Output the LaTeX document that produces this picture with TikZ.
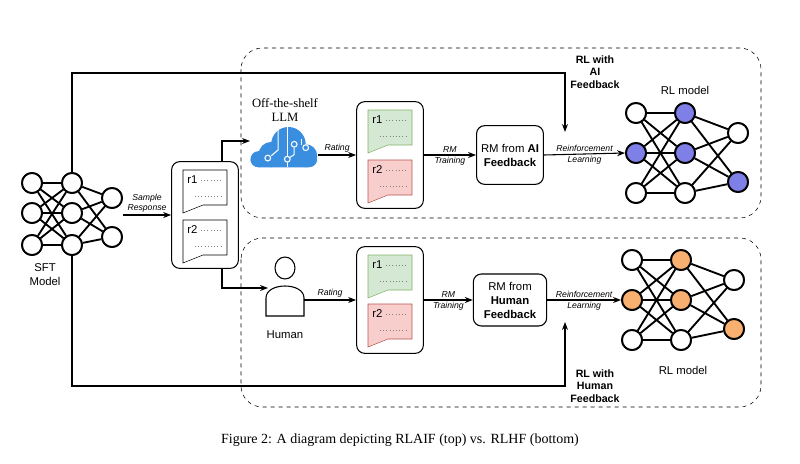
\documentclass[tikz,border=0pt]{standalone}
\usepackage{fontspec}
\setmainfont{Liberation Sans}
\newfontfamily\serifed{Liberation Serif}
\usetikzlibrary{arrows.meta}
\usetikzlibrary{positioning}

\definecolor{aiblue}{HTML}{7F7FE8}
\definecolor{hforange}{HTML}{F8B070}
\definecolor{okgreen}{HTML}{D5E8D4}
\definecolor{okgreenline}{HTML}{82B366}
\definecolor{badred}{HTML}{F8CECC}
\definecolor{badredline}{HTML}{B85450}
\definecolor{cloudblue}{HTML}{3A8EE0}

\tikzset{
	neuron/.style = {circle, draw, line width=1.4pt, minimum size=15pt, inner sep=0pt, fill=white},
	box/.style = {draw, rounded corners=6pt, thick},
	arr/.style = {-{Stealth[length=6pt]}, thick},
	tag/.style = {font=\fontsize{6.5}{7.5}\selectfont\itshape, inner sep=1.5pt},
	bold label/.style = {font=\fontsize{8}{9.5}\selectfont\bfseries, align=center},
	zone/.style = {draw, dashed, rounded corners=16pt},
}

% speech bubble: #1 name, #2 x, #3 y, #4 fill, #5 line, #6 label
\newcommand{\bubble}[6]{
	\draw[fill=#4, draw=#5] (#2,#3) -- ++(44,0) -- ++(0,35) -- ++(-24,0) -- ++(-20,8) -- cycle;
	\node[anchor=north west, inner sep=0pt, font=\fontsize{8.5}{9}\selectfont] (#1) at ([shift={(4,5)}]#2,#3) {#6};
	\draw[dotted, draw=gray] ([shift={(18,10)}]#2,#3) -- ++(21,0);
	\draw[dotted, draw=gray] ([shift={(12,26)}]#2,#3) -- ++(27,0);
}

\begin{document}
\begin{tikzpicture}[x=0.75pt, y=-0.75pt]
	\useasboundingbox (0,0) rectangle (800,464);

	% dashed zones
	\draw[zone] (241,48) rectangle (761,218);
	\draw[zone] (241,238) rectangle (761,407);

	% SFT model
	\foreach \i/\y in {1/183,2/213,3/245} {
		\node[neuron] (s1\i) at (32,\y) {};
		\node[neuron] (s2\i) at (72,\y) {};
	}
	\node[neuron] (s31) at (112,198) {};
	\node[neuron] (s32) at (112,237) {};
	\foreach \i in {1,2,3} {
		\foreach \j in {1,2,3} \draw[line width=1.4pt] (s1\i) -- (s2\j);
		\foreach \j in {1,2} \draw[line width=1.4pt] (s2\i) -- (s3\j);
	}
	\foreach \i/\y in {1/183,2/213,3/245} {
		\node[neuron] at (32,\y) {};
		\node[neuron] at (72,\y) {};
	}
	\node[neuron] at (112,198) {};
	\node[neuron] at (112,237) {};
	\node[align=center, font=\fontsize{8.5}{10.5}\selectfont] (sft) at (45,275) {SFT\\Model};

	% sampled responses
	\node[box, minimum width=50pt, minimum height=80pt] (resp) at (205,215) {};
	\bubble{ra}{183}{170}{white}{black}{r1}
	\bubble{rb}{183}{220}{white}{black}{r2}
	\draw[arr] (s32.east |- resp) -- node[tag, above, align=center] {Sample\\Response} (resp.west);

	% LLM
	\begin{scope}[shift={(285,150)}, scale=1.15]
		\fill[cloudblue] (-12,4) circle (11);
		\fill[cloudblue] (3,-5) circle (15);
		\fill[cloudblue] (18,5) circle (10);
		\fill[cloudblue] (-23,8) circle (7);
		\fill[cloudblue, rounded corners=6pt] (-30,3) rectangle (28,15);
		\draw[white, thick] (-6,-18) -- (-6,0) -- (-12,5);
		\draw[white, thick] (2,-20) -- (2,15);
		\draw[white, thick] (8,-2) -- (8,4) -- (2,8);
		\draw[white, thick] (14,-10) -- (14,-4);
		\draw[white, thick, fill=cloudblue] (-15,7) circle (2.5);
		\draw[white, thick, fill=cloudblue] (8,-5) circle (2.5);
		\draw[white, thick, fill=cloudblue] (18,-2) circle (2.5);
		\draw[white, thick, fill=cloudblue] (2,8) circle (2.5);
	\end{scope}
	\node[inner sep=0pt, minimum width=48pt, minimum height=34pt] (llm) at (285,150) {};
	\node[align=center, font=\serifed\fontsize{9.5}{11}\selectfont] (llmtxt) at (285,110) {Off-the-shelf\\LLM};
	\draw[arr] (resp.north -| 222,0) |- (250,141);

	% human
	\node[inner sep=0pt, minimum width=28pt, minimum height=42pt] (human) at (285,288) {};
	\draw[thick, fill=white] (266,316) -- (266,298) .. controls (266,282) and (304,282) .. (304,298) -- (304,316) -- cycle;
	\draw[thick, fill=white] (285,268) ellipse (10 and 11);
	\node[font=\fontsize{8.5}{10}\selectfont] (humantxt) at (285,335) {Human};
	\draw[arr] (resp.south -| 222,0) |- (268,288);

	% ratings
	\node[box, minimum width=50pt, minimum height=80pt] (rateA) at (390,155) {};
	\bubble{ga}{368}{110}{okgreen}{okgreenline}{r1}
	\bubble{ha}{368}{160}{badred}{badredline}{r2}
	\node[box, minimum width=50pt, minimum height=80pt] (rateH) at (390,300) {};
	\bubble{gh}{368}{255}{okgreen}{okgreenline}{r1}
	\bubble{hh}{368}{304}{badred}{badredline}{r2}
	\draw[arr] (318,155) -- node[tag, above] {Rating} (rateA.west);
	\draw[arr] (human.east |- 0,300) -- node[tag, above] {Rating} (rateH.west);

	% reward models
	\node[box, align=center, font=\fontsize{8.5}{10.5}\selectfont, minimum width=50pt, minimum height=44pt] (rmA) at (510,155) {RM from \textbf{AI}\\\textbf{Feedback}};
	\node[box, align=center, font=\fontsize{8.5}{10.5}\selectfont, minimum width=55pt, minimum height=39pt] (rmH) at (510,300) {RM from\\\textbf{Human}\\\textbf{Feedback}};
	\draw[arr] (rateA.east) -- node[tag, above] {RM} node[tag, below] {Training} (rmA.west);
	\draw[arr] (rateH.east) -- node[tag, above] {RM} node[tag, below] {Training} (rmH.west);

	% RL models
	\foreach \k/\cx/\cy/\col in {A/636/113/aiblue, H/632/260/hforange} {
		\node[neuron] (\k11) at (\cx,\cy) {};
		\node[neuron, fill=\col] (\k21) at (\cx+49,\cy) {};
		\node[neuron, fill=\col] (\k12) at (\cx,\cy+40) {};
		\node[neuron, fill=\col] (\k22) at (\cx+49,\cy+40) {};
		\node[neuron] (\k13) at (\cx,\cy+80) {};
		\node[neuron] (\k23) at (\cx+49,\cy+80) {};
		\node[neuron] (\k31) at (\cx+102,\cy+20) {};
		\node[neuron, fill=\col] (\k32) at (\cx+102,\cy+69) {};
	}
	\foreach \k/\cx/\cy/\col in {A/636/113/aiblue, H/632/260/hforange} {
		\foreach \i in {1,2,3} {
			\foreach \j in {1,2,3} \draw[line width=1.4pt] (\k1\i) -- (\k2\j);
			\foreach \j in {1,2} \draw[line width=1.4pt] (\k2\i) -- (\k3\j);
		}
		\node[neuron] at (\cx,\cy) {};
		\node[neuron, fill=\col] at (\cx+49,\cy) {};
		\node[neuron, fill=\col] at (\cx,\cy+40) {};
		\node[neuron, fill=\col] at (\cx+49,\cy+40) {};
		\node[neuron] at (\cx,\cy+80) {};
		\node[neuron] at (\cx+49,\cy+80) {};
		\node[neuron] at (\cx+102,\cy+20) {};
		\node[neuron, fill=\col] at (\cx+102,\cy+69) {};
	}
	\node[font=\fontsize{8.5}{10}\selectfont] (rlA) at (685,90) {RL model};
	\node[font=\fontsize{8.5}{10}\selectfont] (rlH) at (683,370) {RL model};
	\draw[arr] (rmA.east) -- node[tag, above] {Reinforcement} node[tag, below] {Learning} (A12.west);
	\draw[arr] (rmH.east) -- node[tag, above] {Reinforcement} node[tag, below] {Learning} (H12.west);

	% feedback routes
	\coordinate (tipA) at (565,132);
	\coordinate (tipH) at (565,322);
	\draw[arr] (s21.north) |- (565,73) -- (tipA);
	\draw[arr] (s23.south) |- (565,386) -- (tipH);
	\node[bold label] (fbA) at (595,72) {RL with\\AI\\Feedback};
	\node[bold label] (fbH) at (595,386) {RL with\\Human\\Feedback};

	% caption
	\node[font=\serifed\fontsize{10.5}{12}\selectfont] (cap) at (400,440) {Figure 2: A diagram depicting RLAIF (top) vs. RLHF (bottom)};
\end{tikzpicture}
\end{document}
